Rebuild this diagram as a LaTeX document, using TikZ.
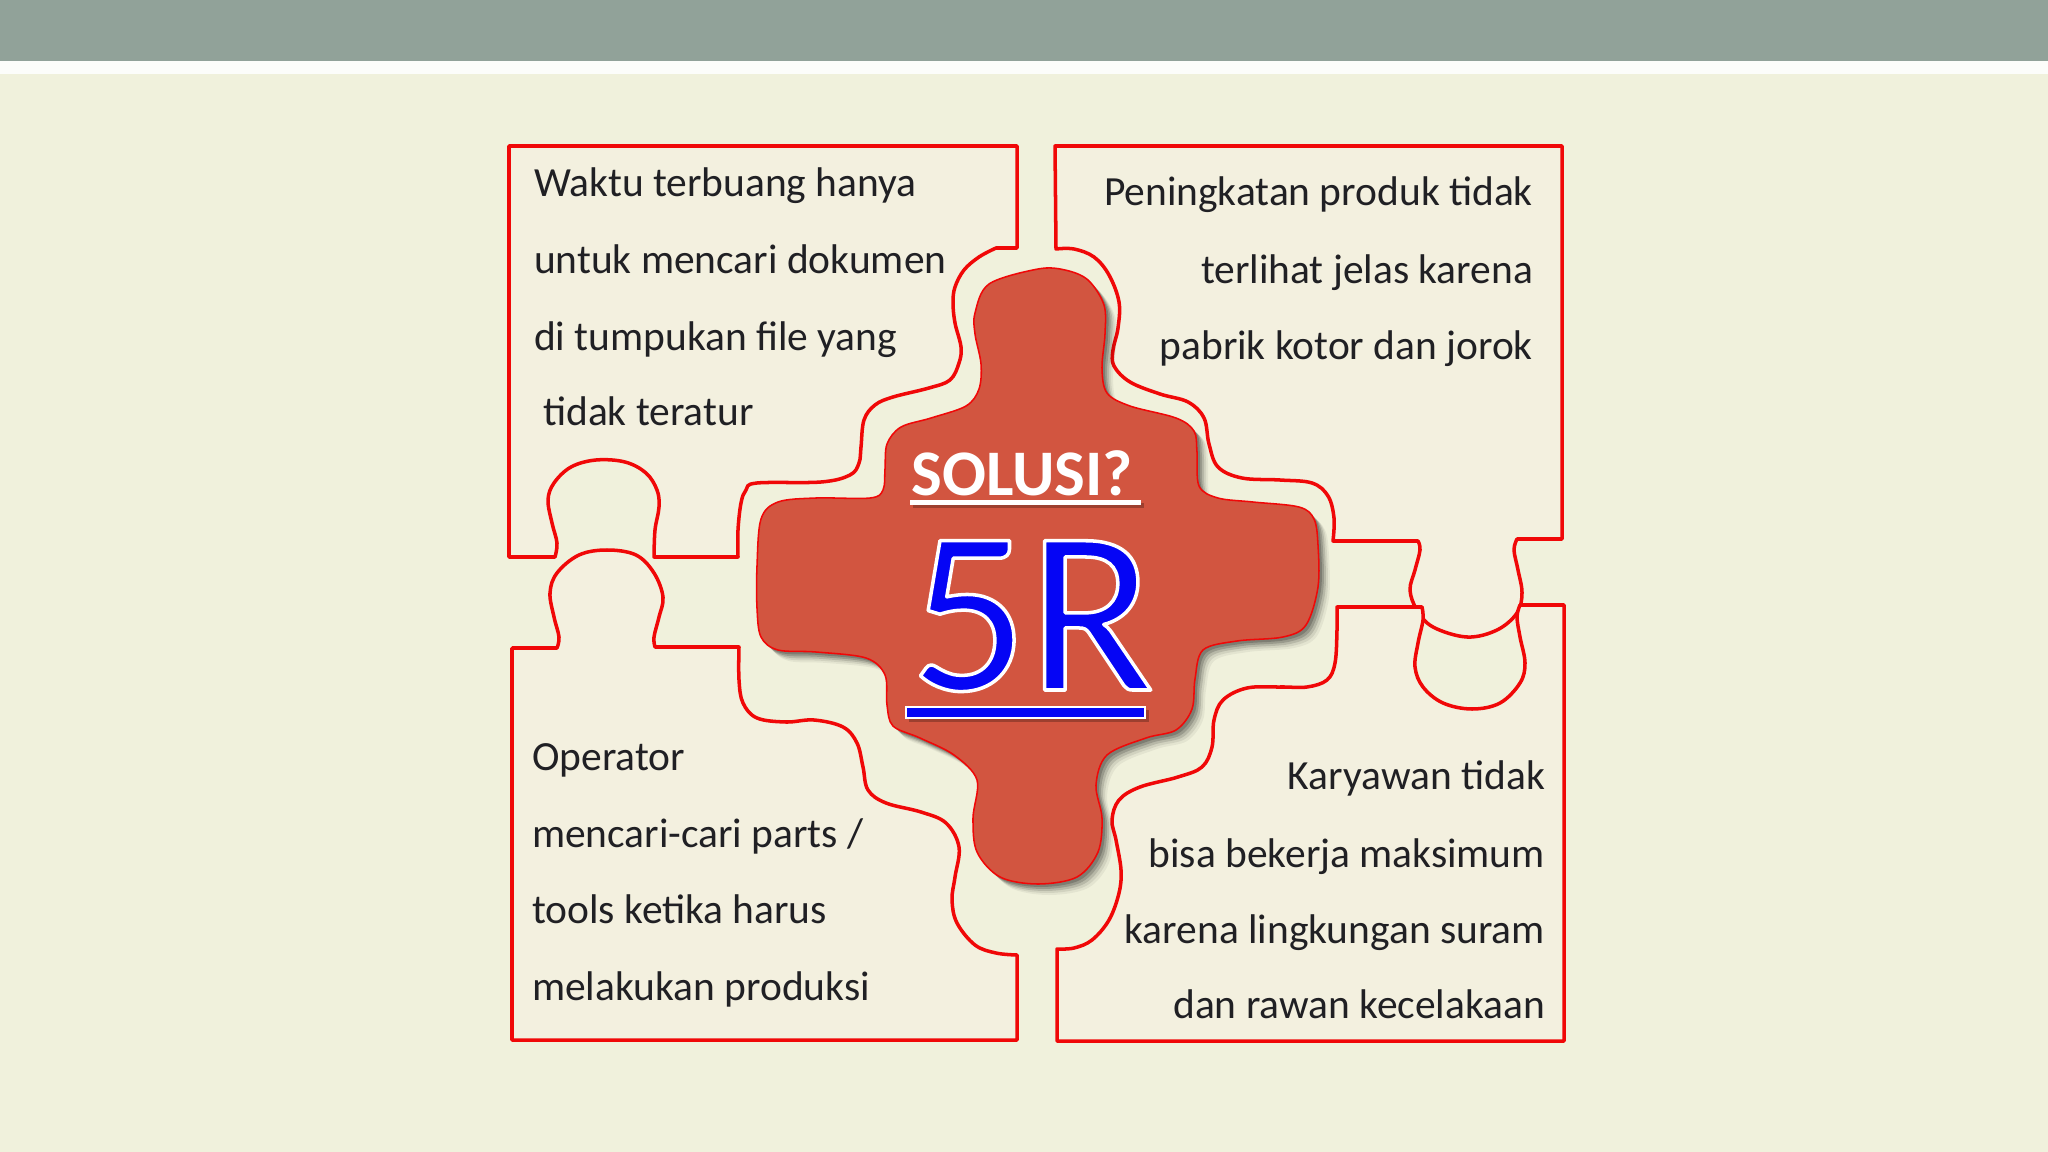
\documentclass[tikz,border=0pt]{standalone}
\usepackage{fontspec}
\setmainfont{Carlito}
\definecolor{bgcream}{RGB}{240,241,220}
\definecolor{piecefill}{RGB}{243,240,223}
\definecolor{headgray}{RGB}{145,162,153}
\definecolor{stripwhite}{RGB}{252,253,250}
\definecolor{edgered}{RGB}{240,8,8}
\definecolor{blobred}{RGB}{210,85,64}
\definecolor{txtcol}{RGB}{32,32,36}
\definecolor{blueR}{RGB}{5,5,245}
\tikzset{
  piece/.style={draw=edgered, line width=5pt, fill=piecefill, line join=round},
  body/.style={font=\fontsize{59}{70}\selectfont, text=txtcol, inner sep=0pt},
}
\newcommand\outlinedtext[1]{{\color{blueR}\special{pdf:literal direct 1 1 1 RG 5 w 1 j 2 Tr}#1\special{pdf:literal direct 0 Tr}}}
\def\blobpath{plot[smooth cycle, tension=0.55] coordinates {(1038,269) (1065,270) (1088,280) (1104,305) (1105,334) (1102,368) (1107,393) (1130,406) (1176,418) (1194,431) (1197,452) (1199,486) (1218,498) (1253,502) (1299,507) (1314,519) (1318,545) (1318,587) (1306,625) (1283,637) (1237,641) (1203,650) (1195,679) (1192,709) (1176,730) (1146,738) (1107,755) (1096,785) (1102,818) (1098,852) (1077,877) (1038,884) (1000,877) (977,852) (973,818) (977,780) (954,755) (920,738) (893,726) (887,705) (885,675) (866,658) (816,652) (778,650) (761,637) (757,608) (757,566) (761,519) (778,502) (816,498) (870,498) (883,490) (885,469) (887,444) (901,427) (931,418) (966,406) (979,389) (981,364) (975,334) (975,313) (989,284)}}
\begin{document}
\begin{tikzpicture}[x=0.05cm,y=-0.05cm]
\useasboundingbox (0,0) rectangle (2048,1152);
\fill[bgcream] (0,0) rectangle (2048,1152);
\fill[headgray] (0,0) rectangle (2048,61);
\fill[stripwhite] (0,61) rectangle (2048,74);

% top-left piece
\draw[piece] (509,146) -- (1017,146) -- (1017,248) -- plot[smooth, tension=0.6] coordinates {(996,248) (979,257) (964,270) (955,287) (953,303) (955,323) (961,347) (959,363) (950,380) (929,388) (893,397) (875,405) (864,420) (861,447) (859,463) (850,475) (821,482) (757,483) (746,490) (741,503) (738,530) (738,557)} -- plot[smooth, tension=0.6] coordinates {(654,557) (655,530) (659,507) (657,490) (646,473) (625,462) (596,460) (571,467) (554,483) (548,500) (552,523) (557,543) (555,557)} -- (509,557) -- cycle;

% top-right piece
\draw[piece] (1055,146) -- (1562,146) -- (1562,539) -- plot[smooth, tension=0.6] coordinates {(1517,539) (1514,550) (1518,570) (1522,593) (1517,613) (1497,630) (1467,637) (1433,627) (1417,610) (1410,590) (1415,570) (1420,550) (1418,541)} -- plot[smooth, tension=0.6] coordinates {(1333,541) (1334,518) (1328,496) (1312,483) (1280,480) (1242,478) (1218,467) (1209,444) (1204,418) (1188,402) (1160,394) (1130,382) (1114,366) (1113,350) (1118,328) (1119,302) (1109,275) (1094,257) (1074,249) (1056,249)} -- cycle;

% bottom-left piece
\draw[piece] (512,648) -- plot[smooth, tension=0.6] coordinates {(557,648) (559,637) (554,617) (550,593) (557,573) (579,555) (607,550) (636,555) (654,573) (663,597) (659,617) (654,637) (655,647)} -- plot[smooth, tension=0.6] coordinates {(739,647) (739,680) (743,703) (757,718) (786,722) (814,720) (843,727) (857,743) (863,767) (868,790) (886,803) (921,812) (946,823) (959,847) (955,877) (952,900) (957,923) (975,945) (996,953) (1017,955)} -- (1017,1040) -- (512,1040) -- cycle;

% bottom-right piece
\draw[piece] (1057,1041) -- (1564,1041) -- (1564,605) -- plot[smooth, tension=0.6] coordinates {(1520,605) (1517,617) (1520,637) (1525,663) (1520,683) (1500,703) (1472,709) (1443,703) (1423,687) (1415,667) (1418,643) (1423,620) (1422,607)} -- plot[smooth, tension=0.6] coordinates {(1337,607) (1337,630) (1335,663) (1327,680) (1307,687) (1281,687) (1247,688) (1223,700) (1214,720) (1212,747) (1202,767) (1178,777) (1140,787) (1119,800) (1112,820) (1116,840) (1121,870) (1119,893) (1109,920) (1092,940) (1074,948) (1057,949)} -- cycle;

% central piece shadow and body
\foreach \o/\op in {3/0.18,5/0.16,7/0.12,9/0.08,11/0.05}{
  \fill[black, fill opacity=\op, shift={(\o,\o)}] \blobpath;
}
\filldraw[fill=blobred, draw=edgered, line width=2.2pt] \blobpath;

% centre texts
\fill[black, fill opacity=0.25] (913,503) rectangle (1144,507.5);
\node[font=\bfseries\fontsize{92.5}{100}\selectfont, text=white, anchor=base, inner sep=0pt] (sol) at (1022,495) {SOLUSI?};
\fill[white] (910,500) rectangle (1141,504.5);
\node[font=\fontsize{331}{331}\selectfont, anchor=base, inner sep=0pt] (fiver) at (1032,690) {\outlinedtext{5R}};
\fill[black, fill opacity=0.25] (909,710) rectangle (1149,722);
\filldraw[fill=blueR, draw=white, line width=2.5pt] (906,707) rectangle (1145,718);

% top-left text
\node[body, anchor=base west] (tl1) at (534,197) {Waktu terbuang hanya};
\node[body, anchor=base west] (tl2) at (534,273) {untuk mencari dokumen};
\node[body, anchor=base west] (tl3) at (534,350) {di tumpukan file yang};
\node[body, anchor=base west] (tl4) at (543,425) {tidak teratur};

% top-right text
\node[body, anchor=base east] (tr1) at (1533,205) {Peningkatan produk tidak};
\node[body, anchor=base east] (tr2) at (1533,283) {terlihat jelas karena};
\node[body, anchor=base east] (tr3) at (1533,359) {pabrik kotor dan jorok};

% bottom-left text
\node[body, anchor=base west] (bl1) at (532,770) {Operator};
\node[body, anchor=base west] (bl2) at (532,847) {mencari-cari parts /};
\node[body, anchor=base west] (bl3) at (532,923) {tools ketika harus};
\node[body, anchor=base west] (bl4) at (532,1000) {melakukan produksi};

% bottom-right text
\node[body, anchor=base east] (br1) at (1545,789) {Karyawan tidak};
\node[body, anchor=base east] (br2) at (1545,867) {bisa bekerja maksimum};
\node[body, anchor=base east] (br3) at (1545,943) {karena lingkungan suram};
\node[body, anchor=base east] (br4) at (1545,1018) {dan rawan kecelakaan};
\end{tikzpicture}
\end{document}
